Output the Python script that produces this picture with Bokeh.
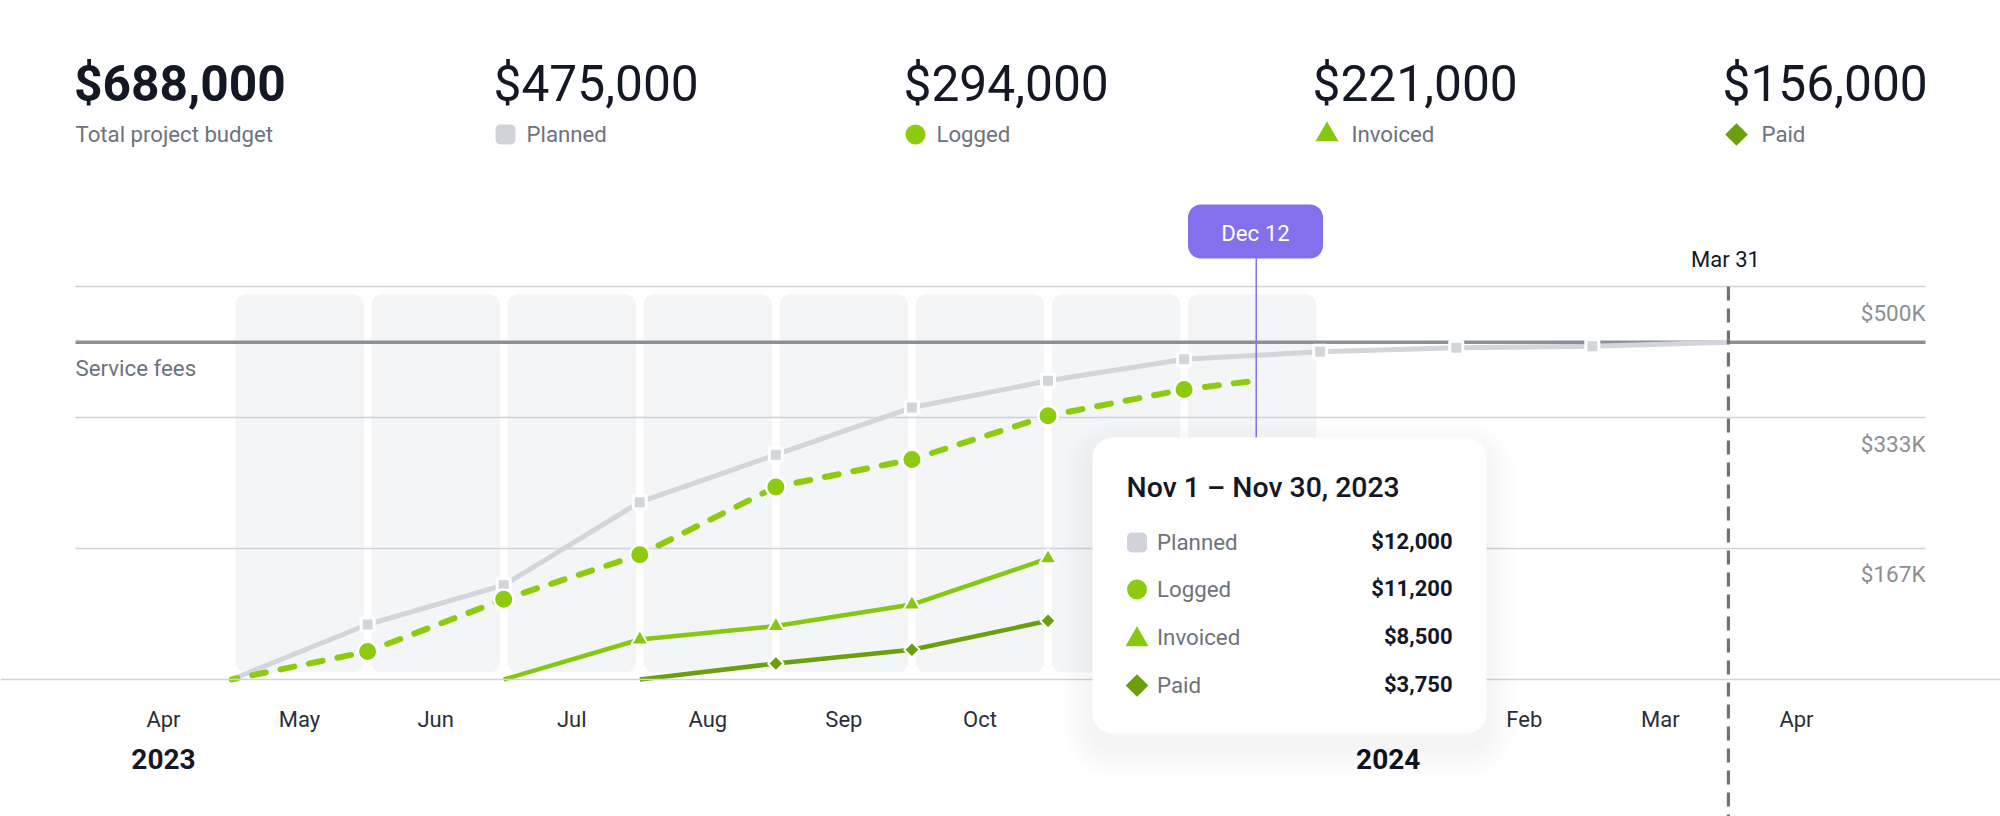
from math import pi
from bokeh.embed import file_html
from bokeh.resources import INLINE
from bokeh.plotting import figure
from bokeh.models import Range1d, LinearAxis, FixedTicker
from bokeh.core.properties import value

# ---- data ----
months = ["Apr", "May", "Jun", "Jul", "Aug", "Sep", "Oct", "Nov", "Dec", "Jan", "Feb", "Mar", "Apr"]
hidden_months = ["Nov", "Dec", "Jan"]
years = ["2023", "2024"]
year_month_index = [0, 9]
boundary_x = [0.5, 1.5, 2.5, 3.5, 4.5, 5.5, 6.5, 7.5, 8.5, 9.5, 10.5, 11.5]
planned = [0, 70000, 120000, 225600, 286000, 346000, 380000, 407500, 417000, 422000, 424000, 429000]
logged_x = [0.5, 1.5, 2.5, 3.5, 4.5, 5.5, 6.5, 7.5, 8.0]
logged = [0, 35600, 102000, 158600, 245000, 280000, 335500, 369000, 379600]
invoiced_x = [2.5, 3.5, 4.5, 5.5, 6.5]
invoiced = [0, 50900, 68000, 95400, 154000]
paid_x = [3.5, 4.5, 5.5, 6.5]
paid = [0, 20400, 37800, 74700]
band_months = [1, 2, 3, 4, 5, 6, 7, 8]
grid_values = [166667, 333333, 500000]
grid_labels = ["$167K", "$333K", "$500K"]
service_fees = 429000
today_x = 8.03
end_x = 11.5
kpi_values = ["$688,000", "$475,000", "$294,000", "$221,000", "$156,000"]
kpi_labels = ["Total project budget", "Planned", "Logged", "Invoiced", "Paid"]
tip_title = "Nov 1 \u2013 Nov 30, 2023"
tip_labels = ["Planned", "Logged", "Invoiced", "Paid"]
tip_values = ["$12,000", "$11,200", "$8,500", "$3,750"]

# ---- colours ----
C_PLAN, C_LOG, C_INV, C_PAID = "#d2d5da", "#8ccb10", "#86c714", "#6a9f0e"
INK, GRAY = "#141824", "#6e727c"
PURPLE = "#8470ec"
FONT = "Roboto"
TOP = "annotation"


def X(px):
    return (px - 163) / 136.08


def Y(py):
    return (679 - py) / 393 * 500000


p = figure(width=2000, height=816, output_backend="svg", toolbar_location=None,
           x_range=Range1d(X(0), X(2000)), y_range=Range1d(Y(816), Y(0)),
           x_axis_type=None, y_axis_type=None, min_border=0, outline_line_color=None)
p.grid.visible = False
p.background_fill_color = "white"


def txt(px, py, s, size, color=INK, align="left", style="normal", level="glyph", font=FONT):
    p.text(x=[X(px)], y=[Y(py)], text=[s], text_font=value(font), text_font_size=f"{size}px",
           text_color=color, text_align=align, text_baseline="middle",
           text_font_style=style, level=level)


def rrect(x0, y0, x1, y1, r, color, alpha=1.0, level="glyph"):
    p.quad(left=[X(x0)], right=[X(x1)], top=[Y(y0)], bottom=[Y(y1)], border_radius=r,
           fill_color=color, fill_alpha=alpha, line_color=None, level=level)


def icon(kind, px, py, level="glyph"):
    if kind == 0:
        rrect(px - 10, py - 10, px + 10, py + 10, 5, "#d0d3d9", level=level)
    elif kind == 1:
        p.scatter([X(px)], [Y(py)], marker="circle", size=20, fill_color=C_LOG, line_color=None, level=level)
    elif kind == 2:
        p.scatter([X(px)], [Y(py)], marker="triangle", size=23, fill_color=C_INV, line_color=None, level=level)
    else:
        p.scatter([X(px)], [Y(py)], marker="square", angle=pi / 4, size=16, fill_color=C_PAID,
                  line_color=None, level=level)


# bands
p.vbar(x=band_months, width=128.5 / 136.08, bottom=Y(672), top=Y(294), border_radius=10,
       fill_color="#f3f5f7", line_color=None)

# grid lines
for v in grid_values:
    p.line([X(75), X(1925)], [v, v], line_color="#d0d2d6", line_width=1.5)
p.text(x=[X(1925)] * 3, y=grid_values, text=grid_labels, text_font=value(FONT), text_font_size="22.5px",
       text_color="#8b8e95", text_align="right", text_baseline="middle", y_offset=26)

# service fees line
p.line([X(75), X(1925)], [service_fees, service_fees], line_color="#8d9096", line_width=3.5)
txt(75, 367, "Service fees", 22.3, GRAY)

# x axis
visible_ticks = [i for i, m in enumerate(months) if m not in hidden_months]
axis = LinearAxis(fixed_location=0, ticker=FixedTicker(ticks=visible_ticks),
                  major_label_overrides={i: months[i] for i in visible_ticks},
                  major_tick_line_color=None, minor_tick_line_color=None,
                  axis_line_color="#d0d2d6", axis_line_width=1.5,
                  major_label_standoff=21, major_label_text_font=FONT,
                  major_label_text_font_size="22px", major_label_text_color="#2b2f39")
p.add_layout(axis, "below")
for i, yr in zip(year_month_index, years):
    p.text(x=[i], y=[0], text=[yr], text_font=value(FONT), text_font_size="28px", text_font_style="bold",
           text_color=INK, text_align="center", text_baseline="middle", y_offset=79)

# series lines
p.line(boundary_x, planned, line_color=C_PLAN, line_width=5)
p.line(invoiced_x, invoiced, line_color=C_INV, line_width=4.5)
p.line(paid_x, paid, line_color=C_PAID, line_width=4.5)
for i in range(len(logged_x) - 1):
    p.line(logged_x[i:i + 2], logged[i:i + 2], line_color=C_LOG, line_width=6,
           line_dash=[14, 15], line_dash_offset=8, line_cap="round")

# markers
p.scatter(boundary_x[1:-1], planned[1:-1], marker="square", size=13, fill_color=C_PLAN,
          line_color="white", line_width=3)
p.scatter(invoiced_x[1:], invoiced[1:], marker="triangle", size=17, fill_color=C_INV,
          line_color="white", line_width=2)
p.scatter(paid_x[1:], paid[1:], marker="square", angle=pi / 4, size=11, fill_color=C_PAID,
          line_color="white", line_width=2)
p.scatter(logged_x[1:-1], logged[1:-1], marker="circle", size=19.5, fill_color=C_LOG,
          line_color="white", line_width=2.5)

# KPI row
kpi_x = [73.5, 493, 903, 1312, 1722]
icon_x = [0, 505, 915, 1326.5, 1736]
label_x = [75, 526, 936, 1351, 1761]
for i, (v, lab) in enumerate(zip(kpi_values, kpi_labels)):
    txt(kpi_x[i], 83, v, 49.7, INK, style="bold" if i == 0 else "normal")
    txt(label_x[i], 133, lab, 22.2, GRAY)
    if i:
        icon(i - 1, icon_x[i], 134)

# today marker and pill
p.line([today_x, today_x], [Y(258), Y(437)], line_color=PURPLE, line_width=1.5)
rrect(1187.5, 204, 1322.5, 258, 13, PURPLE)
txt(1255, 232, "Dec 12", 22.3, "white", align="center")

# plan end marker
p.line([end_x, end_x], [Y(286), Y(816)], line_color="#6f7277", line_width=3.2, line_dash=[14, 8])
txt(1725, 259, "Mar 31", 22, INK, align="center")

# tooltip
for k in range(10):
    g = 30 - 3 * k
    rrect(1092 - g, 437 + 14 - g, 1486 + g, 733 + 14 + g, 20 + g, "#20242c", 0.005, level=TOP)
rrect(1092, 437, 1486, 733, 20, "white", level=TOP)
txt(1126, 487, tip_title, 28.4, INK, level=TOP, font="Roboto Medium")
row_y = [541, 588, 636, 684]
icon_y = [542, 589, 639, 685]
for k, (lab, val) in enumerate(zip(tip_labels, tip_values)):
    icon(k, 1136.5, icon_y[k], level=TOP)
    txt(1156.5, row_y[k], lab, 22.3, GRAY, level=TOP)
    txt(1452, row_y[k], val, 22, INK, align="right", style="bold", level=TOP)

open("out.html", "w").write(file_html(p, INLINE))
